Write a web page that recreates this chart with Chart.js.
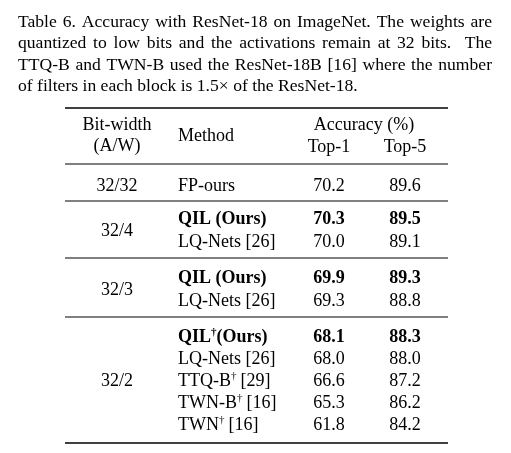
<!DOCTYPE html>
<html><head><meta charset="utf-8">
<script src="https://cdn.jsdelivr.net/npm/chart.js@4.4.0/dist/chart.umd.min.js"></script>
<style>html,body{margin:0;background:#fff}canvas{display:block}</style>
</head><body>
<canvas id="c" width="511" height="453"></canvas>
<script>
const captionLines = [
  'Table 6. Accuracy with ResNet-18 on ImageNet. The weights are',
  'quantized to low bits and the activations remain at 32 bits.  The',
  'TTQ-B and TWN-B used the ResNet-18B [16] where the number',
  'of filters in each block is 1.5\u00d7 of the ResNet-18.'
];
const groups = ['32/32', '32/4', '32/3', '32/2'];
const methods = [['FP-ours'], ['QIL (Ours)', 'LQ-Nets [26]'], ['QIL (Ours)', 'LQ-Nets [26]'],
  ['QIL|(Ours)', 'LQ-Nets [26]', 'TTQ-B|[29]', 'TWN-B|[16]', 'TWN|[16]']];
const top1 = [['70.2'], ['70.3', '70.0'], ['69.9', '69.3'], ['68.1', '68.0', '66.6', '65.3', '61.8']];
const top5 = [['89.6'], ['89.5', '89.1'], ['89.3', '88.8'], ['88.3', '88.0', '87.2', '86.2', '84.2']];
const boldRows = [[false], [true, false], [true, false], [true, false, false, false, false]];

const F = 'Liberation Serif, Times New Roman, serif';
const tablePlugin = {
  id: 'table',
  afterDraw(chart) {
    const ctx = chart.ctx, sx = chart.scales.x, sy = chart.scales.y;
    const X = v => sx.getPixelForValue(v), Y = v => sy.getPixelForValue(v);
    ctx.save();
    ctx.fillStyle = '#000'; ctx.strokeStyle = '#000';
    ctx.textBaseline = 'alphabetic';
    // caption, justified
    ctx.font = '17.6px ' + F;
    captionLines.forEach((line, i) => {
      const y = Y(27 + i * 21.3);
      const words = line.split(' ');
      if (i === captionLines.length - 1) { ctx.textAlign = 'left'; ctx.fillText(line, X(18), y); return; }
      const w = words.reduce((s, t) => s + ctx.measureText(t).width, 0);
      const gap = (X(492) - X(18) - w) / (words.length - 1);
      let x = X(18);
      ctx.textAlign = 'left';
      words.forEach(t => { ctx.fillText(t, x, y); x += ctx.measureText(t).width + gap; });
    });
    const rule = (y, lw) => { ctx.lineWidth = lw; ctx.beginPath(); ctx.moveTo(X(65), Y(y)); ctx.lineTo(X(448), Y(y)); ctx.stroke(); };
    rule(108, 1.3); rule(164, 1); rule(201, 1); rule(258, 1); rule(317, 1); rule(443, 1.3);
    const fs = '18px ';
    ctx.font = fs + F;
    ctx.textAlign = 'center';
    ctx.fillText('Bit-width', X(117), Y(130)); ctx.fillText('(A/W)', X(117), Y(151));
    ctx.fillText('Accuracy (%)', X(364), Y(130));
    ctx.fillText('Top-1', X(329), Y(152)); ctx.fillText('Top-5', X(405), Y(152));
    ctx.textAlign = 'left';
    ctx.fillText('Method', X(178), Y(141));
    const rowY = [[191], [224, 247], [283, 306], [342, 364, 386, 408, 430]];
    groups.forEach((g, gi) => {
      const ys = rowY[gi];
      ctx.font = fs + F; ctx.textAlign = 'center';
      ctx.fillText(g, X(117), Y((ys[0] + ys[ys.length - 1]) / 2));
      methods[gi].forEach((m, ri) => {
        const y = Y(ys[ri]);
        const b = boldRows[gi][ri] ? 'bold ' : '';
        ctx.font = b + fs + F; ctx.textAlign = 'center';
        ctx.fillText(top1[gi][ri], X(329), y); ctx.fillText(top5[gi][ri], X(405), y);
        ctx.textAlign = 'left';
        let x = X(178);
        if (m.includes('|')) {
          const [a, c] = m.split('|');
          ctx.fillText(a, x, y); x += ctx.measureText(a).width;
          ctx.font = b + '11px ' + F; ctx.fillText('\u2020', x, y - 7); x += ctx.measureText('\u2020').width + (b ? 0 : 4);
          ctx.font = b + fs + F; ctx.fillText(c, x, y);
        } else ctx.fillText(m, x, y);
      });
    });
    ctx.restore();
  }
};
new Chart(document.getElementById('c'), {
  type: 'scatter',
  data: { datasets: [{ data: [] }] },
  options: {
    responsive: false, animation: false, layout: { padding: 0 },
    plugins: { legend: { display: false }, tooltip: { enabled: false } },
    scales: {
      x: { type: 'linear', min: 0, max: 511, display: false },
      y: { type: 'linear', min: 0, max: 453, reverse: true, display: false }
    }
  },
  plugins: [tablePlugin]
});
</script>
</body></html>
